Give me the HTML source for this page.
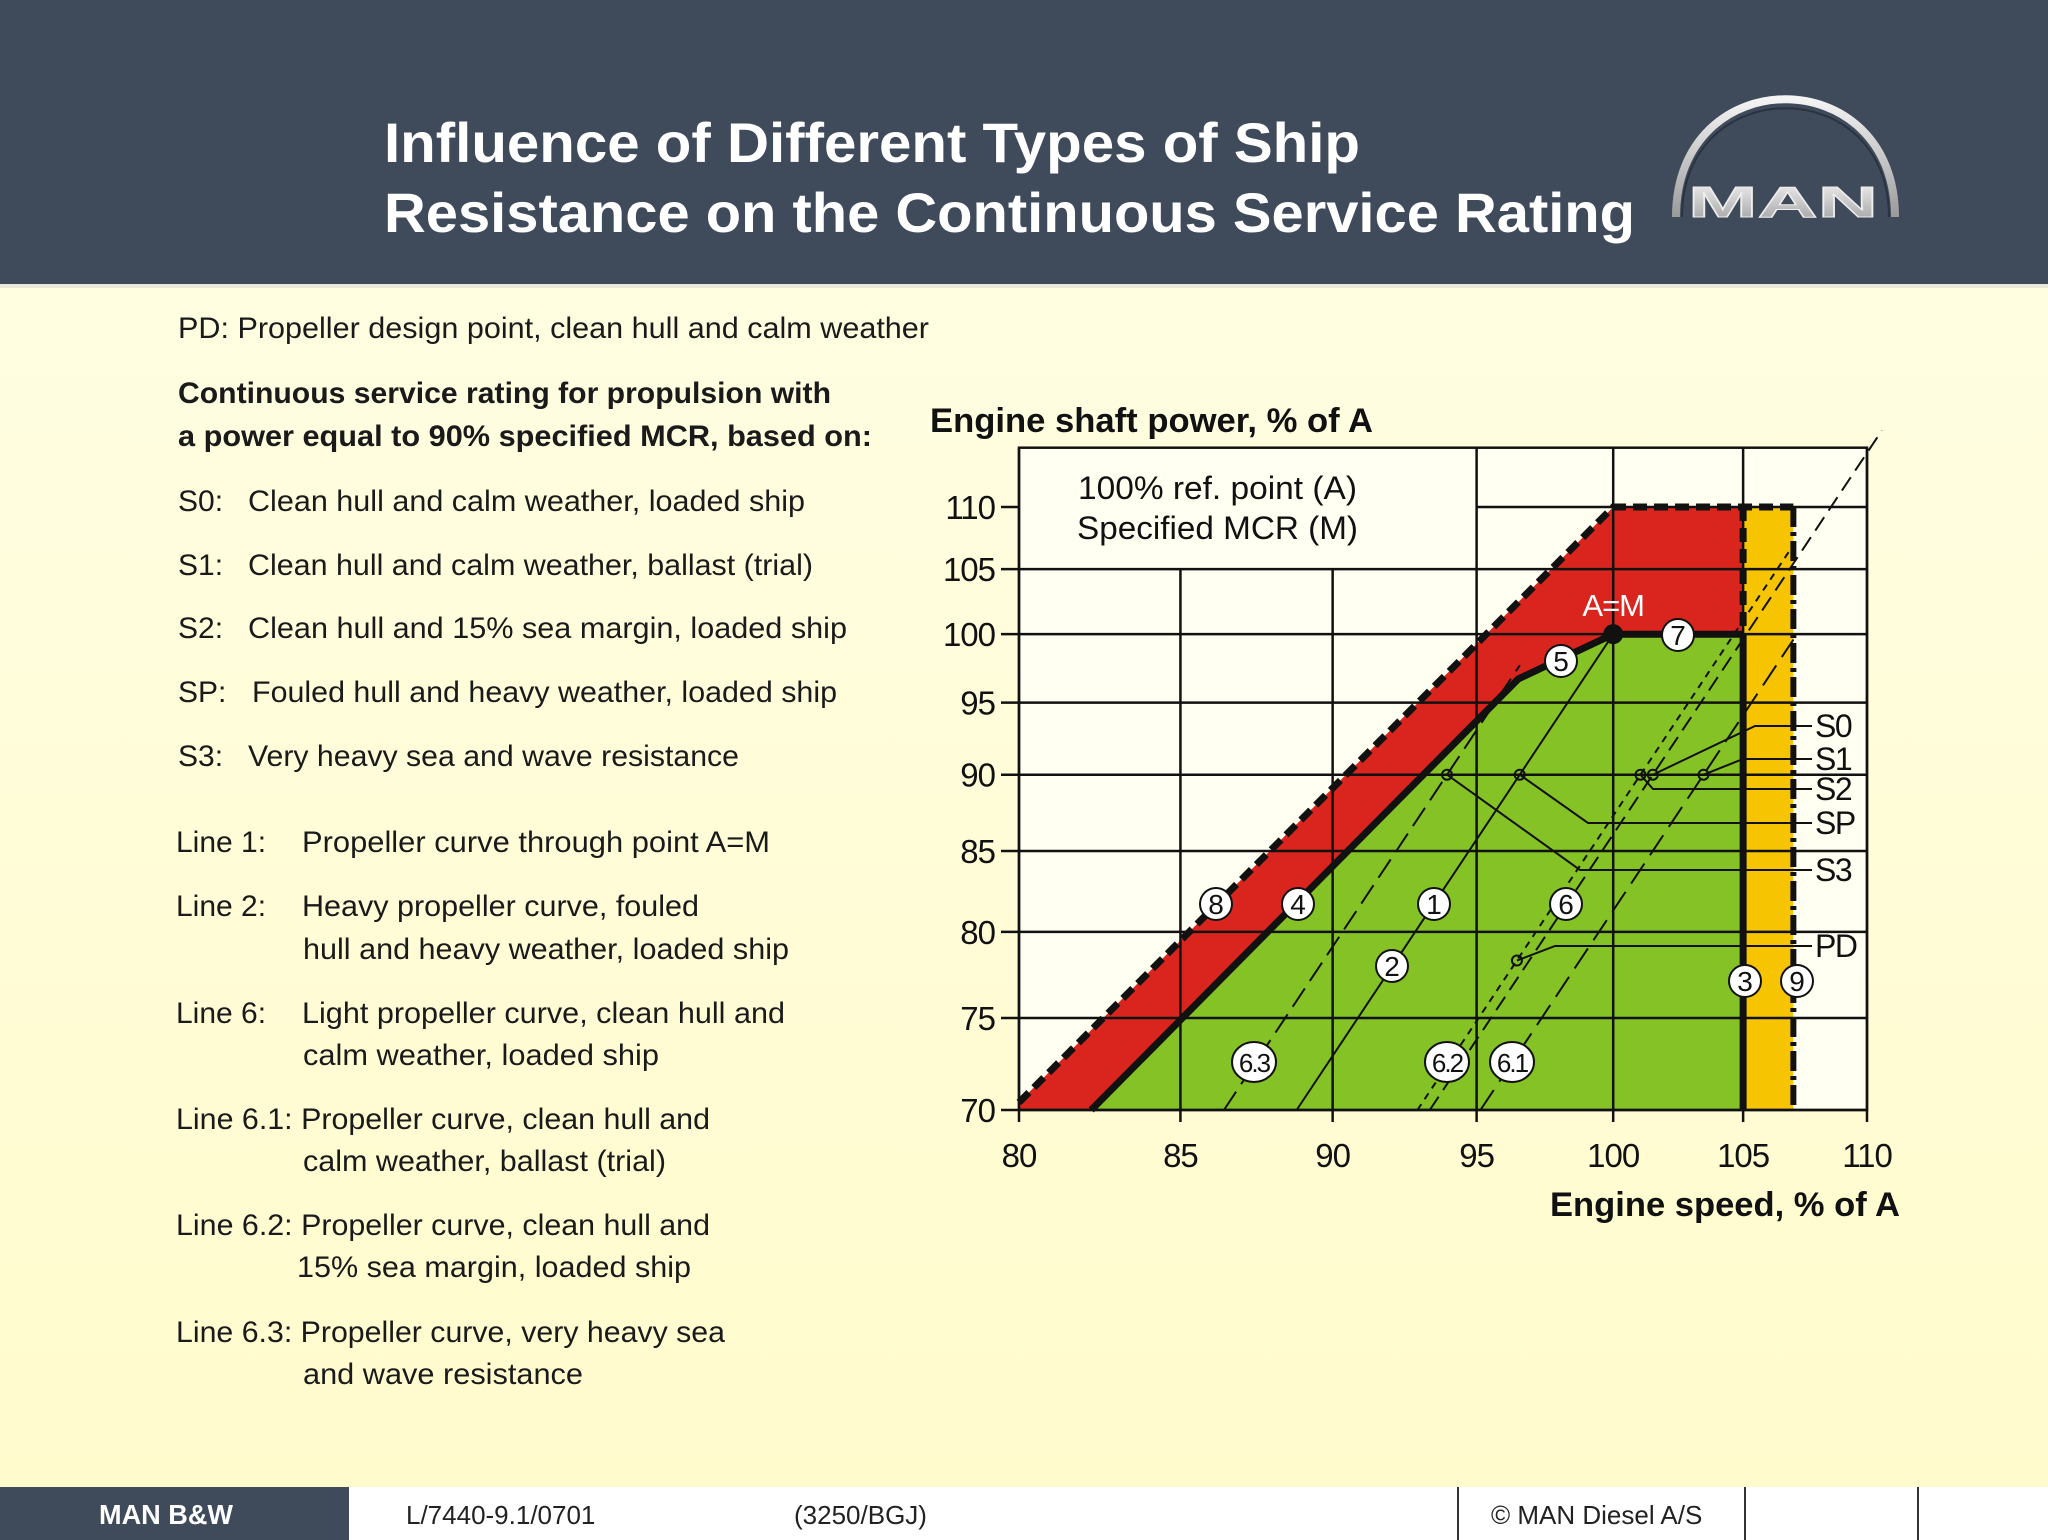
<!DOCTYPE html>
<html><head><meta charset="utf-8"><style>
html,body{margin:0;padding:0;width:2048px;height:1540px;overflow:hidden}
svg{display:block}
text{font-family:"Liberation Sans",sans-serif}
</style></head><body>
<svg id="page" width="2048" height="1540" viewBox="0 0 2048 1540" xmlns="http://www.w3.org/2000/svg">
<defs>
<linearGradient id="bg" x1="0" y1="0" x2="0" y2="1"><stop offset="0" stop-color="#fffee6"/><stop offset="1" stop-color="#fffbcc"/></linearGradient>
<linearGradient id="silver" x1="0" y1="0" x2="0" y2="1"><stop offset="0" stop-color="#f4f4f4"/><stop offset="0.5" stop-color="#c8c8c8"/><stop offset="1" stop-color="#9a9a9a"/></linearGradient>
</defs>
<rect x="0" y="0" width="2048" height="1540" fill="url(#bg)"/>
<g>
<rect x="0" y="0" width="2048" height="284" fill="#3f4a5a"/>
<rect x="0" y="284" width="2048" height="4" fill="#e8e8d8"/>
<text x="384" y="162" font-size="56" font-weight="bold" fill="#fff" textLength="976" lengthAdjust="spacingAndGlyphs">Influence of Different Types of Ship</text>
<text x="384" y="232" font-size="56" font-weight="bold" fill="#fff" textLength="1251" lengthAdjust="spacingAndGlyphs">Resistance on the Continuous Service Rating</text>
<g>
<path d="M1676 217 C1676 60 1895 60 1895 217" fill="none" stroke="url(#silver)" stroke-width="8"/>
<path d="M1682 217 C1682 72 1889 72 1889 217" fill="none" stroke="#2a3340" stroke-width="2"/>
<text x="1783" y="217" font-size="44" font-weight="bold" fill="url(#silver)" stroke="#eee" stroke-width="1" text-anchor="middle" textLength="190" lengthAdjust="spacingAndGlyphs">MAN</text>
</g>
</g>
<g font-size="30" fill="#1a1a1a">
<text x="178" y="338" textLength="751" lengthAdjust="spacingAndGlyphs">PD: Propeller design point, clean hull and calm weather</text>
<text x="178" y="403" font-weight="bold" textLength="653" lengthAdjust="spacingAndGlyphs">Continuous service rating for propulsion with</text>
<text x="178" y="446" font-weight="bold" textLength="694" lengthAdjust="spacingAndGlyphs">a power equal to 90% specified MCR, based on:</text>
<text x="178" y="511">S0:</text><text x="248" y="511" textLength="557" lengthAdjust="spacingAndGlyphs">Clean hull and calm weather, loaded ship</text>
<text x="178" y="575">S1:</text><text x="248" y="575" textLength="565" lengthAdjust="spacingAndGlyphs">Clean hull and calm weather, ballast (trial)</text>
<text x="178" y="638">S2:</text><text x="248" y="638" textLength="599" lengthAdjust="spacingAndGlyphs">Clean hull and 15% sea margin, loaded ship</text>
<text x="178" y="702">SP:</text><text x="252" y="702" textLength="585" lengthAdjust="spacingAndGlyphs">Fouled hull and heavy weather, loaded ship</text>
<text x="178" y="766">S3:</text><text x="248" y="766" textLength="491" lengthAdjust="spacingAndGlyphs">Very heavy sea and wave resistance</text>
<text x="176" y="852">Line 1:</text><text x="302" y="852" textLength="468" lengthAdjust="spacingAndGlyphs">Propeller curve through point A=M</text>
<text x="176" y="916">Line 2:</text><text x="302" y="916" textLength="397" lengthAdjust="spacingAndGlyphs">Heavy propeller curve, fouled</text>
<text x="303" y="959" textLength="486" lengthAdjust="spacingAndGlyphs">hull and heavy weather, loaded ship</text>
<text x="176" y="1023">Line 6:</text><text x="302" y="1023" textLength="483" lengthAdjust="spacingAndGlyphs">Light propeller curve, clean hull and</text>
<text x="303" y="1065" textLength="356" lengthAdjust="spacingAndGlyphs">calm weather, loaded ship</text>
<text x="176" y="1129" textLength="534" lengthAdjust="spacingAndGlyphs">Line 6.1: Propeller curve, clean hull and</text>
<text x="303" y="1171" textLength="363" lengthAdjust="spacingAndGlyphs">calm weather, ballast (trial)</text>
<text x="176" y="1235" textLength="534" lengthAdjust="spacingAndGlyphs">Line 6.2: Propeller curve, clean hull and</text>
<text x="297" y="1277" textLength="394" lengthAdjust="spacingAndGlyphs">15% sea margin, loaded ship</text>
<text x="176" y="1342" textLength="549" lengthAdjust="spacingAndGlyphs">Line 6.3: Propeller curve, very heavy sea</text>
<text x="303" y="1384" textLength="280" lengthAdjust="spacingAndGlyphs">and wave resistance</text>
</g>
<g id="chart"></g>
<g>
<rect x="0" y="1487" width="2048" height="53" fill="#ffffff"/>
<rect x="0" y="1487" width="349" height="53" fill="#3f4a5a"/>
<text x="99" y="1524" font-size="28" font-weight="bold" fill="#fff" textLength="134" lengthAdjust="spacingAndGlyphs">MAN B&amp;W</text>
<text x="406" y="1524" font-size="26" fill="#222">L/7440-9.1/0701</text>
<text x="794" y="1524" font-size="26" fill="#222">(3250/BGJ)</text>
<line x1="1458" y1="1487" x2="1458" y2="1540" stroke="#333" stroke-width="2"/>
<text x="1491" y="1524" font-size="26" fill="#222">© MAN Diesel A/S</text>
<line x1="1745" y1="1487" x2="1745" y2="1540" stroke="#333" stroke-width="2"/>
<line x1="1918" y1="1487" x2="1918" y2="1540" stroke="#333" stroke-width="2"/>
</g>
</svg>
<script>
const speedTicks=[80,85,90,95,100,105,110];
const powerTicks=[70,75,80,85,90,95,100,105,110];
const redTopLine=[[80,70.4],[100,110],[105,110]];
const line4=[[82.2,70],[96.5,96.7]];
const line5=[[96.5,96.7],[100,100]];
const line7=[[100,100],[105,100]];
const limitSpeed=105, overloadSpeed=107, maxPower=110, minPower=70, refPower=100;
// propeller curves: speed at 90% power, power range
const curveNames=['1','6.3','6','6.2','6.1'];
const curveSpeedAt90=[96.55,93.95,101.5,101.03,103.45];
const curveTopPower=[100,97.7,116.5,106.9,99.6];
const curveDash=['none','22 9','16 8','7 6','24 10'];
const pointNames=['S3','SP','S2','S0','S1'];
const pointSpeeds=[93.95,96.55,101.03,101.5,103.45];
const pointPower=90;
const pdSpeed=96.45, pdPower=78.3;

const X=n=>1019+848*Math.log(n/80)/Math.log(110/80);
const Y=p=>1110-603*Math.log(p/70)/Math.log(110/70);
const NS='http://www.w3.org/2000/svg';
const chart=document.getElementById('chart');
function mk(tag,attrs,parent){const e=document.createElementNS(NS,tag);for(const k in attrs)e.setAttribute(k,attrs[k]);(parent||chart).appendChild(e);return e;}
function pts(a){return a.map(d=>X(d[0]).toFixed(1)+','+Y(d[1]).toFixed(1)).join(' ');}

const frame=mk('rect',{x:X(80),y:Y(115),width:X(110)-X(80),height:Y(70)-Y(115),fill:'#fffff2'});


const red=mk('polygon',{points:pts([[80,70],[80,70.4],[100,110],[105,110],[105,100],[100,100],[96.5,96.7],[82.2,70]]),fill:'#d9251d'});


const green=mk('polygon',{points:pts([[82.2,70],[96.5,96.7],[100,100],[105,100],[105,70]]),fill:'#84c226'});


const yellow=mk('rect',{x:X(limitSpeed),y:Y(maxPower),width:X(overloadSpeed)-X(limitSpeed),height:Y(minPower)-Y(maxPower),fill:'#f6c400'});



powerTicks.forEach(p=>{
  const x1=p===110?X(95):X(80)-18;
  const g=mk('line',{x1:x1,y1:Y(p),x2:X(110),y2:Y(p),stroke:'#111','stroke-width':2.5});
  
  
  if(p===110){mk('line',{x1:X(80)-18,y1:Y(p),x2:X(80),y2:Y(p),stroke:'#111','stroke-width':2.5});}
  const t=mk('text',{x:X(80)-24,y:Y(p)+12,'font-size':33,'text-anchor':'end',fill:'#111','letter-spacing':'-1'});
  t.textContent=p;
  
  
});
speedTicks.forEach(n=>{
  const y1=(n===85||n===90)?Y(105):Y(115);
  const g=mk('line',{x1:X(n),y1:y1,x2:X(n),y2:Y(70)+12,stroke:'#111','stroke-width':2.5});
  
  
  const t=mk('text',{x:X(n),y:1167,'font-size':33,'text-anchor':'middle',fill:'#111','letter-spacing':'-1'});
  t.textContent=n;
  
  
});
const fr=mk('rect',{x:X(80),y:Y(115),width:X(110)-X(80),height:Y(70)-Y(115),fill:'none',stroke:'#111','stroke-width':2.5});



curveNames.forEach((nm,i)=>{
  const s=curveSpeedAt90[i];
  const n0=s*Math.pow(70/90,1/3), n1=s*Math.pow(curveTopPower[i]/90,1/3);
  const l=mk('line',{x1:X(n0),y1:Y(70),x2:X(n1),y2:Y(curveTopPower[i]),stroke:'#111','stroke-width':2,'stroke-dasharray':curveDash[i]});
  
  
});

let l8=mk('polyline',{points:pts(redTopLine.concat([[107,110]])),fill:'none',stroke:'#111','stroke-width':7,'stroke-dasharray':'14 7'});


let l4=mk('polyline',{points:pts(line4.concat(line5)),fill:'none',stroke:'#111','stroke-width':7});


let l7=mk('polyline',{points:pts(line7),fill:'none',stroke:'#111','stroke-width':7});


let l3=mk('line',{x1:X(limitSpeed),y1:Y(refPower),x2:X(limitSpeed),y2:Y(minPower),stroke:'#111','stroke-width':7});


let l3d=mk('line',{x1:X(limitSpeed),y1:Y(maxPower),x2:X(limitSpeed),y2:Y(refPower),stroke:'#111','stroke-width':7,'stroke-dasharray':'14 7'});


let l9=mk('line',{x1:X(overloadSpeed),y1:Y(maxPower),x2:X(overloadSpeed),y2:Y(minPower),stroke:'#111','stroke-width':6,'stroke-dasharray':'20 5 4 5'});


let am=mk('circle',{cx:X(100),cy:Y(100),r:10,fill:'#111'});


let amt=mk('text',{x:X(100),y:Y(100)-18,'font-size':31,'text-anchor':'middle',fill:'#fff','letter-spacing':'-1'});
amt.textContent='A=M';



const leaderBends={S3:[[1580,870]],SP:[[1588,823]],S2:[[1653,789]],S0:[[1755,726]],S1:[[1743,759]]};
const labelY={S0:726,S1:759,S2:789,SP:823,S3:870,PD:946};
pointNames.forEach((nm,i)=>{
  const x=X(pointSpeeds[i]),y=Y(pointPower);
  const b=leaderBends[nm][0];
  const pl=mk('polyline',{points:x+','+y+' '+b[0]+','+b[1]+' 1812,'+labelY[nm],fill:'none',stroke:'#111','stroke-width':2});
  
  
  const c=mk('circle',{cx:x,cy:y,r:5,fill:'none',stroke:'#111','stroke-width':2});
  
  
  const t=mk('text',{x:1815,y:labelY[nm]+11,'font-size':32,fill:'#111','letter-spacing':'-1.5'});
  t.textContent=nm;
  
  
});
{
  const x=X(pdSpeed),y=Y(pdPower);
  const pl=mk('polyline',{points:x+','+y+' 1555,946 1812,946',fill:'none',stroke:'#111','stroke-width':2});
  
  
  const c=mk('circle',{cx:x,cy:y,r:5,fill:'none',stroke:'#111','stroke-width':2});
  
  
  const t=mk('text',{x:1815,y:957,'font-size':32,fill:'#111','letter-spacing':'-1.5'});
  t.textContent='PD';
  
  
}

const markerText=['8','4','1','6','2','3','9','5','7','6.3','6.2','6.1'];
const markerPos=[[1216,904],[1298,904],[1434,904],[1566,904],[1392,966],[1745,981],[1797,981],[1561,661],[1678,635],[1254,1062],[1447,1062],[1512,1062]];
markerText.forEach((m,i)=>{
  const [cx,cy]=markerPos[i];
  const wide=m.length>1;
  const e=mk('ellipse',{cx:cx,cy:cy,rx:wide?22:16,ry:wide?20:16,fill:'#fff',stroke:'#111','stroke-width':2});
  
  
  const t=mk('text',{x:cx,y:cy+10,'font-size':wide?26:28,'text-anchor':'middle',fill:'#111','letter-spacing':wide?'-2':'0'});
  t.textContent=m;
  
  
});

let yt=mk('text',{x:930,y:432,'font-size':34,'font-weight':'bold',fill:'#111',textLength:443,lengthAdjust:'spacingAndGlyphs'});
yt.textContent='Engine shaft power, % of A';


let xt=mk('text',{x:1550,y:1216,'font-size':34,'font-weight':'bold',fill:'#111',textLength:350,lengthAdjust:'spacingAndGlyphs'});
xt.textContent='Engine speed, % of A';


let n1=mk('text',{x:1078,y:499,'font-size':32,fill:'#111',textLength:279,lengthAdjust:'spacingAndGlyphs'});
n1.textContent='100% ref. point (A)';


let n2=mk('text',{x:1077,y:539,'font-size':32,fill:'#111',textLength:281,lengthAdjust:'spacingAndGlyphs'});
n2.textContent='Specified MCR (M)';


</script>
</body></html>
